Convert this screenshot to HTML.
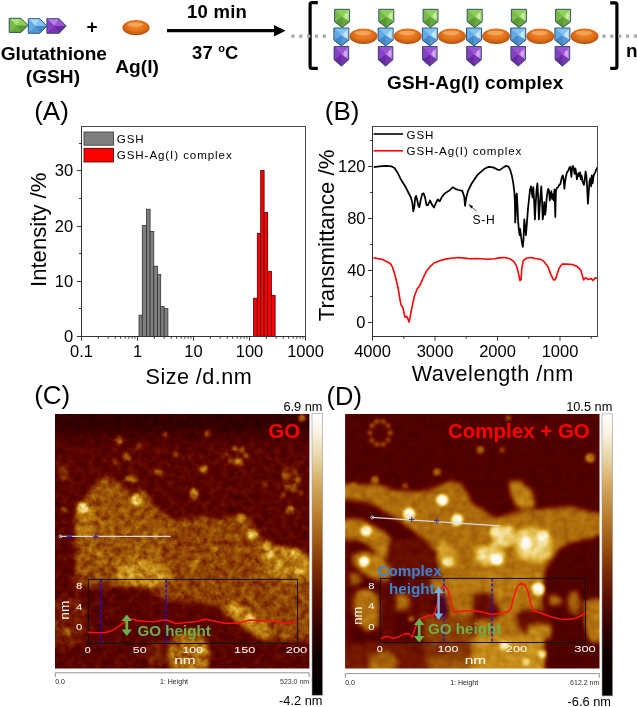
<!DOCTYPE html>
<html><head><meta charset="utf-8"><title>GSH-Ag(I) complex</title>
<style>
html,body{margin:0;padding:0;background:#fff;width:637px;height:707px;overflow:hidden}
svg{display:block}
.r{font-family:"Liberation Sans",Arial,sans-serif;font-weight:normal}
.b{font-family:"Liberation Sans",Arial,sans-serif;font-weight:bold}
text.wt{fill:#fff}
</style></head><body>
<svg width="637" height="707" viewBox="0 0 637 707">
<defs>
<linearGradient id="gG" x1="0" y1="0" x2="0" y2="1"><stop offset="0" stop-color="#a6dc6e"/><stop offset="0.5" stop-color="#78bd48"/><stop offset="1" stop-color="#4e8f2a"/></linearGradient>
<linearGradient id="gB" x1="0" y1="0" x2="0" y2="1"><stop offset="0" stop-color="#9fd2f6"/><stop offset="0.5" stop-color="#5ea6e2"/><stop offset="1" stop-color="#3b7cc0"/></linearGradient>
<linearGradient id="gP" x1="0" y1="0" x2="0" y2="1"><stop offset="0" stop-color="#b56ee0"/><stop offset="0.5" stop-color="#8036b8"/><stop offset="1" stop-color="#5a1f8e"/></linearGradient>
<linearGradient id="gGv" x1="0" y1="0" x2="1" y2="0"><stop offset="0" stop-color="#5e9e36"/><stop offset="0.6" stop-color="#7cc24a"/><stop offset="0.85" stop-color="#b4ea80"/><stop offset="1" stop-color="#6aa83c"/></linearGradient>
<linearGradient id="gBv" x1="0" y1="0" x2="1" y2="0"><stop offset="0" stop-color="#4a8ed0"/><stop offset="0.6" stop-color="#64ace6"/><stop offset="0.85" stop-color="#aee0fc"/><stop offset="1" stop-color="#5a9edc"/></linearGradient>
<linearGradient id="gPv" x1="0" y1="0" x2="1" y2="0"><stop offset="0" stop-color="#6a28a0"/><stop offset="0.6" stop-color="#8a3cc4"/><stop offset="0.85" stop-color="#c07ef0"/><stop offset="1" stop-color="#7a34b4"/></linearGradient>
<radialGradient id="gOr" cx="0.5" cy="0.4" r="0.62"><stop offset="0" stop-color="#f08a2a"/><stop offset="0.55" stop-color="#e2721a"/><stop offset="0.85" stop-color="#c25810"/><stop offset="1" stop-color="#8e3c06"/></radialGradient>
<linearGradient id="cbar" x1="0" y1="0" x2="0" y2="1"><stop offset="0" stop-color="#ffffff"/><stop offset="0.06" stop-color="#fbf5e8"/><stop offset="0.15" stop-color="#ead7a8"/><stop offset="0.25" stop-color="#d4aa60"/><stop offset="0.35" stop-color="#bd8232"/><stop offset="0.45" stop-color="#a05a14"/><stop offset="0.55" stop-color="#7e2e04"/><stop offset="0.65" stop-color="#5a1000"/><stop offset="0.75" stop-color="#340400"/><stop offset="0.85" stop-color="#120000"/><stop offset="1" stop-color="#000000"/></linearGradient>
<linearGradient id="topband" x1="0" y1="0" x2="0" y2="1"><stop offset="0" stop-color="rgb(18,18,18)"/><stop offset="0.45" stop-color="rgb(22,22,22)"/><stop offset="0.75" stop-color="rgb(40,40,40)"/><stop offset="1" stop-color="rgb(51,51,51)"/></linearGradient>
<clipPath id="clipA"><rect x="0" y="90" width="330" height="300"/></clipPath>
<clipPath id="clipImg"><rect x="0" y="0" width="254.4" height="254.6"/></clipPath>
<filter id="bl4" x="-20%" y="-20%" width="140%" height="140%"><feGaussianBlur stdDeviation="4"/></filter>
<filter id="bl2" x="-50%" y="-50%" width="200%" height="200%"><feGaussianBlur stdDeviation="2"/></filter>
<filter id="hb3" x="-20%" y="-20%" width="140%" height="140%"><feGaussianBlur stdDeviation="2.5"/></filter>
<filter id="hb15" x="-50%" y="-50%" width="200%" height="200%"><feGaussianBlur stdDeviation="1.6"/></filter>
<filter id="afm" x="0" y="0" width="255" height="255" filterUnits="userSpaceOnUse" color-interpolation-filters="sRGB"><feTurbulence type="fractalNoise" baseFrequency="0.15" numOctaves="3" seed="7" result="n"/><feColorMatrix in="n" type="matrix" values="1 0 0 0 0  1 0 0 0 0  1 0 0 0 0  0 0 0 0 1" result="ng"/><feComposite in="SourceGraphic" in2="ng" operator="arithmetic" k1="0.8" k2="0.6" k3="0.04" k4="-0.02" result="hn"/><feComponentTransfer in="hn"><feFuncR type="table" tableValues="0.08 0.22 0.35 0.46 0.55 0.65 0.75 0.84 0.91 0.96 1.0"/><feFuncG type="table" tableValues="0.0 0.0 0.01 0.10 0.25 0.39 0.52 0.65 0.78 0.89 0.98"/><feFuncB type="table" tableValues="0.0 0.0 0.0 0.0 0.02 0.04 0.08 0.18 0.38 0.64 0.94"/></feComponentTransfer></filter>
<filter id="afmD" x="0" y="0" width="255" height="255" filterUnits="userSpaceOnUse" color-interpolation-filters="sRGB"><feTurbulence type="fractalNoise" baseFrequency="0.12" numOctaves="2" seed="11" result="n"/><feColorMatrix in="n" type="matrix" values="1 0 0 0 0  1 0 0 0 0  1 0 0 0 0  0 0 0 0 1" result="ng"/><feComposite in="SourceGraphic" in2="ng" operator="arithmetic" k1="0.25" k2="0.875" k3="0.03" k4="-0.015" result="hn"/><feComponentTransfer in="hn"><feFuncR type="table" tableValues="0.08 0.22 0.35 0.46 0.55 0.65 0.75 0.84 0.91 0.96 1.0"/><feFuncG type="table" tableValues="0.0 0.0 0.01 0.10 0.25 0.39 0.52 0.65 0.78 0.89 0.98"/><feFuncB type="table" tableValues="0.0 0.0 0.0 0.0 0.02 0.04 0.08 0.18 0.38 0.64 0.94"/></feComponentTransfer></filter>
<filter id="noise" x="0" y="0" width="100%" height="100%"><feTurbulence type="fractalNoise" baseFrequency="0.35" numOctaves="2" seed="3"/><feColorMatrix type="matrix" values="0 0 0 0 0.5  0 0 0 0 0.3  0 0 0 0 0.1  0 0 0 1.6 -0.8"/></filter>
</defs>
<polygon points="9.2,18.3 21.0,18.3 28.0,25.35 21.0,32.4 9.2,32.4" fill="#78bb48"/><polygon points="9.2,18.3 21.0,18.3 16.5,25.4" fill="#a9e274"/><polygon points="21.0,18.3 28.0,25.4 16.5,25.4" fill="#8ed05a"/><polygon points="28.0,25.4 21.0,32.4 16.5,25.4" fill="#5a9834"/><polygon points="21.0,32.4 9.2,32.4 16.5,25.4" fill="#68a83e"/><polygon points="9.2,32.4 9.2,18.3 16.5,25.4" fill="#78bb48"/><polygon points="9.2,18.3 21.0,18.3 28.0,25.35 21.0,32.4 9.2,32.4" fill="none" stroke="#2b4a6a" stroke-width="0.9" stroke-linejoin="round"/>
<polygon points="28.3,18.7 39.8,18.7 46.8,26.0 39.8,33.3 28.3,33.3" fill="#63a9e5"/><polygon points="28.3,18.7 39.8,18.7 35.4,26.0" fill="#a8dafb"/><polygon points="39.8,18.7 46.8,26.0 35.4,26.0" fill="#82c2f2"/><polygon points="46.8,26.0 39.8,33.3 35.4,26.0" fill="#4586c4"/><polygon points="39.8,33.3 28.3,33.3 35.4,26.0" fill="#5298d6"/><polygon points="28.3,33.3 28.3,18.7 35.4,26.0" fill="#63a9e5"/><polygon points="28.3,18.7 39.8,18.7 46.8,26.0 39.8,33.3 28.3,33.3" fill="none" stroke="#2b4a6a" stroke-width="0.9" stroke-linejoin="round"/>
<polygon points="46.9,18.7 59.099999999999994,18.7 66.1,26.0 59.099999999999994,33.3 46.9,33.3" fill="#8541c1"/><polygon points="46.9,18.7 59.1,18.7 54.5,26.0" fill="#bb7ae8"/><polygon points="59.1,18.7 66.1,26.0 54.5,26.0" fill="#9c54d4"/><polygon points="66.1,26.0 59.1,33.3 54.5,26.0" fill="#682aa0"/><polygon points="59.1,33.3 46.9,33.3 54.5,26.0" fill="#7636b0"/><polygon points="46.9,33.3 46.9,18.7 54.5,26.0" fill="#8541c1"/><polygon points="46.9,18.7 59.099999999999994,18.7 66.1,26.0 59.099999999999994,33.3 46.9,33.3" fill="none" stroke="#2b4a6a" stroke-width="0.9" stroke-linejoin="round"/>
<text x="86.5" y="32.5" class="b" font-size="19">+</text>
<ellipse cx="136.0" cy="27.6" rx="13.6" ry="7.6" fill="url(#gOr)"/><ellipse cx="135.3" cy="24.4" rx="8.2" ry="2.1" fill="#ffd0a0" opacity="0.45"/>
<text x="0.7" y="60.1" class="b" font-size="19.15">Glutathione</text>
<text x="25.8" y="82.8" class="b" font-size="19.15">(GSH)</text>
<text x="115.3" y="72.8" class="b" font-size="19.15">Ag(I)</text>
<text x="187" y="17.8" class="b" font-size="18.5" letter-spacing="0.25">10 min</text>
<text x="192" y="58.5" class="b" font-size="18.4" letter-spacing="0.2">37 <tspan font-size="11" dy="-6.5">o</tspan><tspan dy="6.5">C</tspan></text>
<line x1="167" y1="30.7" x2="276" y2="30.7" stroke="#000" stroke-width="3.2"/>
<polygon points="274,25 285.5,30.7 274,36.4" fill="#000"/>
<path d="M317.8,2.6 L312,2.6 Q310.1,2.6 310.1,4.5 L310.1,66.5 Q310.1,68.4 312,68.4 L317.8,68.4" fill="none" stroke="#000" stroke-width="3.2"/>
<path d="M610.2,2.8 L615,2.8 Q616.9,2.8 616.9,4.7 L616.9,66.4 Q616.9,68.3 615,68.3 L610.2,68.3" fill="none" stroke="#000" stroke-width="3.2"/>
<rect x="291.30" y="34.5" width="3.3" height="3.3" fill="#ababab"/>
<rect x="299.15" y="34.5" width="3.3" height="3.3" fill="#ababab"/>
<rect x="307.00" y="34.5" width="3.3" height="3.3" fill="#ababab"/>
<rect x="314.85" y="34.5" width="3.3" height="3.3" fill="#ababab"/>
<rect x="322.70" y="34.5" width="3.3" height="3.3" fill="#ababab"/>
<rect x="602.30" y="34.5" width="3.3" height="3.3" fill="#ababab"/>
<rect x="610.15" y="34.5" width="3.3" height="3.3" fill="#ababab"/>
<rect x="618.00" y="34.5" width="3.3" height="3.3" fill="#ababab"/>
<rect x="625.85" y="34.5" width="3.3" height="3.3" fill="#ababab"/>
<rect x="633.70" y="34.5" width="3.3" height="3.3" fill="#ababab"/>
<text x="626" y="56.8" class="b" font-size="18.9">n</text>
<polygon points="334.6,9.3 349.6,9.3 349.6,21.7 342.1,27.5 334.6,21.7" fill="#78bb48"/><polygon points="334.6,9.3 349.6,9.3 342.1,16.7" fill="#8ed05a"/><polygon points="349.6,9.3 349.6,21.7 342.1,16.7" fill="#a9e274"/><polygon points="349.6,21.7 342.1,27.5 342.1,16.7" fill="#68a83e"/><polygon points="342.1,27.5 334.6,21.7 342.1,16.7" fill="#5a9834"/><polygon points="334.6,21.7 334.6,9.3 342.1,16.7" fill="#78bb48"/><ellipse cx="346.3" cy="16.1" rx="1.6" ry="3.2" fill="#ffffff" opacity="0.35"/><polygon points="334.6,9.3 349.6,9.3 349.6,21.7 342.1,27.5 334.6,21.7" fill="none" stroke="#2b4a6a" stroke-width="0.9" stroke-linejoin="round"/>
<polygon points="333.90000000000003,28.0 348.90000000000003,28.0 348.90000000000003,40.1 341.40000000000003,45.9 333.90000000000003,40.1" fill="#63a9e5"/><polygon points="333.9,28.0 348.9,28.0 341.4,35.3" fill="#82c2f2"/><polygon points="348.9,28.0 348.9,40.1 341.4,35.3" fill="#a8dafb"/><polygon points="348.9,40.1 341.4,45.9 341.4,35.3" fill="#5298d6"/><polygon points="341.4,45.9 333.9,40.1 341.4,35.3" fill="#4586c4"/><polygon points="333.9,40.1 333.9,28.0 341.4,35.3" fill="#63a9e5"/><ellipse cx="345.6" cy="34.7" rx="1.6" ry="3.2" fill="#ffffff" opacity="0.35"/><polygon points="333.90000000000003,28.0 348.90000000000003,28.0 348.90000000000003,40.1 341.40000000000003,45.9 333.90000000000003,40.1" fill="none" stroke="#2b4a6a" stroke-width="0.9" stroke-linejoin="round"/>
<polygon points="334.1,46.5 348.70000000000005,46.5 348.70000000000005,59.699999999999996 341.40000000000003,66.1 334.1,59.699999999999996" fill="#8541c1"/><polygon points="334.1,46.5 348.7,46.5 341.4,54.4" fill="#9c54d4"/><polygon points="348.7,46.5 348.7,59.7 341.4,54.4" fill="#bb7ae8"/><polygon points="348.7,59.7 341.4,66.1 341.4,54.4" fill="#7636b0"/><polygon points="341.4,66.1 334.1,59.7 341.4,54.4" fill="#682aa0"/><polygon points="334.1,59.7 334.1,46.5 341.4,54.4" fill="#8541c1"/><ellipse cx="345.5" cy="53.8" rx="1.6" ry="3.2" fill="#ffffff" opacity="0.35"/><polygon points="334.1,46.5 348.70000000000005,46.5 348.70000000000005,59.699999999999996 341.40000000000003,66.1 334.1,59.699999999999996" fill="none" stroke="#2b4a6a" stroke-width="0.9" stroke-linejoin="round"/>
<ellipse cx="363.5" cy="36.2" rx="14.0" ry="7.8" fill="url(#gOr)"/><ellipse cx="362.8" cy="32.9" rx="8.4" ry="2.2" fill="#ffd0a0" opacity="0.45"/>
<polygon points="378.8,9.3 393.8,9.3 393.8,21.7 386.3,27.5 378.8,21.7" fill="#78bb48"/><polygon points="378.8,9.3 393.8,9.3 386.3,16.7" fill="#8ed05a"/><polygon points="393.8,9.3 393.8,21.7 386.3,16.7" fill="#a9e274"/><polygon points="393.8,21.7 386.3,27.5 386.3,16.7" fill="#68a83e"/><polygon points="386.3,27.5 378.8,21.7 386.3,16.7" fill="#5a9834"/><polygon points="378.8,21.7 378.8,9.3 386.3,16.7" fill="#78bb48"/><ellipse cx="390.5" cy="16.1" rx="1.6" ry="3.2" fill="#ffffff" opacity="0.35"/><polygon points="378.8,9.3 393.8,9.3 393.8,21.7 386.3,27.5 378.8,21.7" fill="none" stroke="#2b4a6a" stroke-width="0.9" stroke-linejoin="round"/>
<polygon points="378.1,28.0 393.1,28.0 393.1,40.1 385.6,45.9 378.1,40.1" fill="#63a9e5"/><polygon points="378.1,28.0 393.1,28.0 385.6,35.3" fill="#82c2f2"/><polygon points="393.1,28.0 393.1,40.1 385.6,35.3" fill="#a8dafb"/><polygon points="393.1,40.1 385.6,45.9 385.6,35.3" fill="#5298d6"/><polygon points="385.6,45.9 378.1,40.1 385.6,35.3" fill="#4586c4"/><polygon points="378.1,40.1 378.1,28.0 385.6,35.3" fill="#63a9e5"/><ellipse cx="389.8" cy="34.7" rx="1.6" ry="3.2" fill="#ffffff" opacity="0.35"/><polygon points="378.1,28.0 393.1,28.0 393.1,40.1 385.6,45.9 378.1,40.1" fill="none" stroke="#2b4a6a" stroke-width="0.9" stroke-linejoin="round"/>
<polygon points="378.3,46.5 392.90000000000003,46.5 392.90000000000003,59.699999999999996 385.6,66.1 378.3,59.699999999999996" fill="#8541c1"/><polygon points="378.3,46.5 392.9,46.5 385.6,54.4" fill="#9c54d4"/><polygon points="392.9,46.5 392.9,59.7 385.6,54.4" fill="#bb7ae8"/><polygon points="392.9,59.7 385.6,66.1 385.6,54.4" fill="#7636b0"/><polygon points="385.6,66.1 378.3,59.7 385.6,54.4" fill="#682aa0"/><polygon points="378.3,59.7 378.3,46.5 385.6,54.4" fill="#8541c1"/><ellipse cx="389.7" cy="53.8" rx="1.6" ry="3.2" fill="#ffffff" opacity="0.35"/><polygon points="378.3,46.5 392.90000000000003,46.5 392.90000000000003,59.699999999999996 385.6,66.1 378.3,59.699999999999996" fill="none" stroke="#2b4a6a" stroke-width="0.9" stroke-linejoin="round"/>
<ellipse cx="407.7" cy="36.2" rx="14.0" ry="7.8" fill="url(#gOr)"/><ellipse cx="407.0" cy="32.9" rx="8.4" ry="2.2" fill="#ffd0a0" opacity="0.45"/>
<polygon points="423.00000000000006,9.3 438.00000000000006,9.3 438.00000000000006,21.7 430.50000000000006,27.5 423.00000000000006,21.7" fill="#78bb48"/><polygon points="423.0,9.3 438.0,9.3 430.5,16.7" fill="#8ed05a"/><polygon points="438.0,9.3 438.0,21.7 430.5,16.7" fill="#a9e274"/><polygon points="438.0,21.7 430.5,27.5 430.5,16.7" fill="#68a83e"/><polygon points="430.5,27.5 423.0,21.7 430.5,16.7" fill="#5a9834"/><polygon points="423.0,21.7 423.0,9.3 430.5,16.7" fill="#78bb48"/><ellipse cx="434.7" cy="16.1" rx="1.6" ry="3.2" fill="#ffffff" opacity="0.35"/><polygon points="423.00000000000006,9.3 438.00000000000006,9.3 438.00000000000006,21.7 430.50000000000006,27.5 423.00000000000006,21.7" fill="none" stroke="#2b4a6a" stroke-width="0.9" stroke-linejoin="round"/>
<polygon points="422.30000000000007,28.0 437.30000000000007,28.0 437.30000000000007,40.1 429.80000000000007,45.9 422.30000000000007,40.1" fill="#63a9e5"/><polygon points="422.3,28.0 437.3,28.0 429.8,35.3" fill="#82c2f2"/><polygon points="437.3,28.0 437.3,40.1 429.8,35.3" fill="#a8dafb"/><polygon points="437.3,40.1 429.8,45.9 429.8,35.3" fill="#5298d6"/><polygon points="429.8,45.9 422.3,40.1 429.8,35.3" fill="#4586c4"/><polygon points="422.3,40.1 422.3,28.0 429.8,35.3" fill="#63a9e5"/><ellipse cx="434.0" cy="34.7" rx="1.6" ry="3.2" fill="#ffffff" opacity="0.35"/><polygon points="422.30000000000007,28.0 437.30000000000007,28.0 437.30000000000007,40.1 429.80000000000007,45.9 422.30000000000007,40.1" fill="none" stroke="#2b4a6a" stroke-width="0.9" stroke-linejoin="round"/>
<polygon points="422.50000000000006,46.5 437.1000000000001,46.5 437.1000000000001,59.699999999999996 429.80000000000007,66.1 422.50000000000006,59.699999999999996" fill="#8541c1"/><polygon points="422.5,46.5 437.1,46.5 429.8,54.4" fill="#9c54d4"/><polygon points="437.1,46.5 437.1,59.7 429.8,54.4" fill="#bb7ae8"/><polygon points="437.1,59.7 429.8,66.1 429.8,54.4" fill="#7636b0"/><polygon points="429.8,66.1 422.5,59.7 429.8,54.4" fill="#682aa0"/><polygon points="422.5,59.7 422.5,46.5 429.8,54.4" fill="#8541c1"/><ellipse cx="433.9" cy="53.8" rx="1.6" ry="3.2" fill="#ffffff" opacity="0.35"/><polygon points="422.50000000000006,46.5 437.1000000000001,46.5 437.1000000000001,59.699999999999996 429.80000000000007,66.1 422.50000000000006,59.699999999999996" fill="none" stroke="#2b4a6a" stroke-width="0.9" stroke-linejoin="round"/>
<ellipse cx="451.9" cy="36.2" rx="14.0" ry="7.8" fill="url(#gOr)"/><ellipse cx="451.2" cy="32.9" rx="8.4" ry="2.2" fill="#ffd0a0" opacity="0.45"/>
<polygon points="467.20000000000005,9.3 482.20000000000005,9.3 482.20000000000005,21.7 474.70000000000005,27.5 467.20000000000005,21.7" fill="#78bb48"/><polygon points="467.2,9.3 482.2,9.3 474.7,16.7" fill="#8ed05a"/><polygon points="482.2,9.3 482.2,21.7 474.7,16.7" fill="#a9e274"/><polygon points="482.2,21.7 474.7,27.5 474.7,16.7" fill="#68a83e"/><polygon points="474.7,27.5 467.2,21.7 474.7,16.7" fill="#5a9834"/><polygon points="467.2,21.7 467.2,9.3 474.7,16.7" fill="#78bb48"/><ellipse cx="478.9" cy="16.1" rx="1.6" ry="3.2" fill="#ffffff" opacity="0.35"/><polygon points="467.20000000000005,9.3 482.20000000000005,9.3 482.20000000000005,21.7 474.70000000000005,27.5 467.20000000000005,21.7" fill="none" stroke="#2b4a6a" stroke-width="0.9" stroke-linejoin="round"/>
<polygon points="466.50000000000006,28.0 481.50000000000006,28.0 481.50000000000006,40.1 474.00000000000006,45.9 466.50000000000006,40.1" fill="#63a9e5"/><polygon points="466.5,28.0 481.5,28.0 474.0,35.3" fill="#82c2f2"/><polygon points="481.5,28.0 481.5,40.1 474.0,35.3" fill="#a8dafb"/><polygon points="481.5,40.1 474.0,45.9 474.0,35.3" fill="#5298d6"/><polygon points="474.0,45.9 466.5,40.1 474.0,35.3" fill="#4586c4"/><polygon points="466.5,40.1 466.5,28.0 474.0,35.3" fill="#63a9e5"/><ellipse cx="478.2" cy="34.7" rx="1.6" ry="3.2" fill="#ffffff" opacity="0.35"/><polygon points="466.50000000000006,28.0 481.50000000000006,28.0 481.50000000000006,40.1 474.00000000000006,45.9 466.50000000000006,40.1" fill="none" stroke="#2b4a6a" stroke-width="0.9" stroke-linejoin="round"/>
<polygon points="466.70000000000005,46.5 481.30000000000007,46.5 481.30000000000007,59.699999999999996 474.00000000000006,66.1 466.70000000000005,59.699999999999996" fill="#8541c1"/><polygon points="466.7,46.5 481.3,46.5 474.0,54.4" fill="#9c54d4"/><polygon points="481.3,46.5 481.3,59.7 474.0,54.4" fill="#bb7ae8"/><polygon points="481.3,59.7 474.0,66.1 474.0,54.4" fill="#7636b0"/><polygon points="474.0,66.1 466.7,59.7 474.0,54.4" fill="#682aa0"/><polygon points="466.7,59.7 466.7,46.5 474.0,54.4" fill="#8541c1"/><ellipse cx="478.1" cy="53.8" rx="1.6" ry="3.2" fill="#ffffff" opacity="0.35"/><polygon points="466.70000000000005,46.5 481.30000000000007,46.5 481.30000000000007,59.699999999999996 474.00000000000006,66.1 466.70000000000005,59.699999999999996" fill="none" stroke="#2b4a6a" stroke-width="0.9" stroke-linejoin="round"/>
<ellipse cx="496.1" cy="36.2" rx="14.0" ry="7.8" fill="url(#gOr)"/><ellipse cx="495.4" cy="32.9" rx="8.4" ry="2.2" fill="#ffd0a0" opacity="0.45"/>
<polygon points="511.40000000000003,9.3 526.4000000000001,9.3 526.4000000000001,21.7 518.9000000000001,27.5 511.40000000000003,21.7" fill="#78bb48"/><polygon points="511.4,9.3 526.4,9.3 518.9,16.7" fill="#8ed05a"/><polygon points="526.4,9.3 526.4,21.7 518.9,16.7" fill="#a9e274"/><polygon points="526.4,21.7 518.9,27.5 518.9,16.7" fill="#68a83e"/><polygon points="518.9,27.5 511.4,21.7 518.9,16.7" fill="#5a9834"/><polygon points="511.4,21.7 511.4,9.3 518.9,16.7" fill="#78bb48"/><ellipse cx="523.1" cy="16.1" rx="1.6" ry="3.2" fill="#ffffff" opacity="0.35"/><polygon points="511.40000000000003,9.3 526.4000000000001,9.3 526.4000000000001,21.7 518.9000000000001,27.5 511.40000000000003,21.7" fill="none" stroke="#2b4a6a" stroke-width="0.9" stroke-linejoin="round"/>
<polygon points="510.70000000000005,28.0 525.7,28.0 525.7,40.1 518.2,45.9 510.70000000000005,40.1" fill="#63a9e5"/><polygon points="510.7,28.0 525.7,28.0 518.2,35.3" fill="#82c2f2"/><polygon points="525.7,28.0 525.7,40.1 518.2,35.3" fill="#a8dafb"/><polygon points="525.7,40.1 518.2,45.9 518.2,35.3" fill="#5298d6"/><polygon points="518.2,45.9 510.7,40.1 518.2,35.3" fill="#4586c4"/><polygon points="510.7,40.1 510.7,28.0 518.2,35.3" fill="#63a9e5"/><ellipse cx="522.4" cy="34.7" rx="1.6" ry="3.2" fill="#ffffff" opacity="0.35"/><polygon points="510.70000000000005,28.0 525.7,28.0 525.7,40.1 518.2,45.9 510.70000000000005,40.1" fill="none" stroke="#2b4a6a" stroke-width="0.9" stroke-linejoin="round"/>
<polygon points="510.90000000000003,46.5 525.5,46.5 525.5,59.699999999999996 518.2,66.1 510.90000000000003,59.699999999999996" fill="#8541c1"/><polygon points="510.9,46.5 525.5,46.5 518.2,54.4" fill="#9c54d4"/><polygon points="525.5,46.5 525.5,59.7 518.2,54.4" fill="#bb7ae8"/><polygon points="525.5,59.7 518.2,66.1 518.2,54.4" fill="#7636b0"/><polygon points="518.2,66.1 510.9,59.7 518.2,54.4" fill="#682aa0"/><polygon points="510.9,59.7 510.9,46.5 518.2,54.4" fill="#8541c1"/><ellipse cx="522.3" cy="53.8" rx="1.6" ry="3.2" fill="#ffffff" opacity="0.35"/><polygon points="510.90000000000003,46.5 525.5,46.5 525.5,59.699999999999996 518.2,66.1 510.90000000000003,59.699999999999996" fill="none" stroke="#2b4a6a" stroke-width="0.9" stroke-linejoin="round"/>
<ellipse cx="540.3" cy="36.2" rx="14.0" ry="7.8" fill="url(#gOr)"/><ellipse cx="539.6" cy="32.9" rx="8.4" ry="2.2" fill="#ffd0a0" opacity="0.45"/>
<polygon points="555.5999999999999,9.3 570.5999999999999,9.3 570.5999999999999,21.7 563.0999999999999,27.5 555.5999999999999,21.7" fill="#78bb48"/><polygon points="555.6,9.3 570.6,9.3 563.1,16.7" fill="#8ed05a"/><polygon points="570.6,9.3 570.6,21.7 563.1,16.7" fill="#a9e274"/><polygon points="570.6,21.7 563.1,27.5 563.1,16.7" fill="#68a83e"/><polygon points="563.1,27.5 555.6,21.7 563.1,16.7" fill="#5a9834"/><polygon points="555.6,21.7 555.6,9.3 563.1,16.7" fill="#78bb48"/><ellipse cx="567.3" cy="16.1" rx="1.6" ry="3.2" fill="#ffffff" opacity="0.35"/><polygon points="555.5999999999999,9.3 570.5999999999999,9.3 570.5999999999999,21.7 563.0999999999999,27.5 555.5999999999999,21.7" fill="none" stroke="#2b4a6a" stroke-width="0.9" stroke-linejoin="round"/>
<polygon points="554.9,28.0 569.9,28.0 569.9,40.1 562.4,45.9 554.9,40.1" fill="#63a9e5"/><polygon points="554.9,28.0 569.9,28.0 562.4,35.3" fill="#82c2f2"/><polygon points="569.9,28.0 569.9,40.1 562.4,35.3" fill="#a8dafb"/><polygon points="569.9,40.1 562.4,45.9 562.4,35.3" fill="#5298d6"/><polygon points="562.4,45.9 554.9,40.1 562.4,35.3" fill="#4586c4"/><polygon points="554.9,40.1 554.9,28.0 562.4,35.3" fill="#63a9e5"/><ellipse cx="566.6" cy="34.7" rx="1.6" ry="3.2" fill="#ffffff" opacity="0.35"/><polygon points="554.9,28.0 569.9,28.0 569.9,40.1 562.4,45.9 554.9,40.1" fill="none" stroke="#2b4a6a" stroke-width="0.9" stroke-linejoin="round"/>
<polygon points="555.0999999999999,46.5 569.6999999999999,46.5 569.6999999999999,59.699999999999996 562.3999999999999,66.1 555.0999999999999,59.699999999999996" fill="#8541c1"/><polygon points="555.1,46.5 569.7,46.5 562.4,54.4" fill="#9c54d4"/><polygon points="569.7,46.5 569.7,59.7 562.4,54.4" fill="#bb7ae8"/><polygon points="569.7,59.7 562.4,66.1 562.4,54.4" fill="#7636b0"/><polygon points="562.4,66.1 555.1,59.7 562.4,54.4" fill="#682aa0"/><polygon points="555.1,59.7 555.1,46.5 562.4,54.4" fill="#8541c1"/><ellipse cx="566.5" cy="53.8" rx="1.6" ry="3.2" fill="#ffffff" opacity="0.35"/><polygon points="555.0999999999999,46.5 569.6999999999999,46.5 569.6999999999999,59.699999999999996 562.3999999999999,66.1 555.0999999999999,59.699999999999996" fill="none" stroke="#2b4a6a" stroke-width="0.9" stroke-linejoin="round"/>
<ellipse cx="584.5" cy="36.2" rx="14.0" ry="7.8" fill="url(#gOr)"/><ellipse cx="583.8" cy="32.9" rx="8.4" ry="2.2" fill="#ffd0a0" opacity="0.45"/>
<text x="387" y="88.9" class="b" font-size="19" letter-spacing="0.2">GSH-Ag(I) complex</text>
<g clip-path="url(#clipA)"><text x="34.2" y="120.4" class="r" font-size="26">(A)</text>
<rect x="139.0" y="315.2" width="3.3" height="21.3" fill="#7f7f7f" stroke="#333" stroke-width="0.8"/>
<rect x="142.3" y="225.6" width="4.1" height="110.9" fill="#7f7f7f" stroke="#333" stroke-width="0.8"/>
<rect x="146.4" y="209.2" width="3.7" height="127.3" fill="#7f7f7f" stroke="#333" stroke-width="0.8"/>
<rect x="150.1" y="231.4" width="3.7" height="105.1" fill="#7f7f7f" stroke="#333" stroke-width="0.8"/>
<rect x="153.8" y="266.2" width="3.7" height="70.3" fill="#7f7f7f" stroke="#333" stroke-width="0.8"/>
<rect x="157.5" y="274.4" width="3.2" height="62.1" fill="#7f7f7f" stroke="#333" stroke-width="0.8"/>
<rect x="160.7" y="306.6" width="3.5" height="29.9" fill="#7f7f7f" stroke="#333" stroke-width="0.8"/>
<rect x="164.2" y="308.6" width="3.7" height="27.9" fill="#7f7f7f" stroke="#333" stroke-width="0.8"/>
<rect x="253.6" y="298.2" width="3.7" height="38.3" fill="#ff0000" stroke="#400" stroke-width="0.8"/>
<rect x="257.3" y="233.3" width="3.4" height="103.2" fill="#ff0000" stroke="#400" stroke-width="0.8"/>
<rect x="260.7" y="170.5" width="3.4" height="166.0" fill="#ff0000" stroke="#400" stroke-width="0.8"/>
<rect x="264.1" y="212.4" width="3.6" height="124.1" fill="#ff0000" stroke="#400" stroke-width="0.8"/>
<rect x="267.7" y="271.3" width="3.7" height="65.2" fill="#ff0000" stroke="#400" stroke-width="0.8"/>
<rect x="271.4" y="295.3" width="3.7" height="41.2" fill="#ff0000" stroke="#400" stroke-width="0.8"/>
<rect x="81.5" y="126.5" width="224.0" height="210.0" fill="none" stroke="#4a4a4a" stroke-width="1"/>
<line x1="81.5" y1="126.5" x2="81.5" y2="336.5" stroke="#333" stroke-width="1"/>
<line x1="81.5" y1="336.5" x2="305.5" y2="336.5" stroke="#333" stroke-width="1"/>
<line x1="76.9" y1="336.5" x2="81.5" y2="336.5" stroke="#222" stroke-width="0.9"/>
<text x="73.2" y="341.5" class="r" font-size="16.5" text-anchor="end">0</text>
<line x1="79.0" y1="308.5" x2="81.5" y2="308.5" stroke="#222" stroke-width="0.9"/>
<line x1="76.9" y1="281.5" x2="81.5" y2="281.5" stroke="#222" stroke-width="0.9"/>
<text x="73.2" y="286.5" class="r" font-size="16.5" text-anchor="end">10</text>
<line x1="79.0" y1="253.5" x2="81.5" y2="253.5" stroke="#222" stroke-width="0.9"/>
<line x1="76.9" y1="226.5" x2="81.5" y2="226.5" stroke="#222" stroke-width="0.9"/>
<text x="73.2" y="231.5" class="r" font-size="16.5" text-anchor="end">20</text>
<line x1="79.0" y1="198.5" x2="81.5" y2="198.5" stroke="#222" stroke-width="0.9"/>
<line x1="76.9" y1="170.5" x2="81.5" y2="170.5" stroke="#222" stroke-width="0.9"/>
<text x="73.2" y="175.5" class="r" font-size="16.5" text-anchor="end">30</text>
<line x1="79.0" y1="143.5" x2="81.5" y2="143.5" stroke="#222" stroke-width="0.9"/>
<line x1="81.5" y1="336.5" x2="81.5" y2="340.7" stroke="#222" stroke-width="0.9"/>
<line x1="98.4" y1="336.5" x2="98.4" y2="338.7" stroke="#222" stroke-width="0.9"/>
<line x1="108.2" y1="336.5" x2="108.2" y2="338.7" stroke="#222" stroke-width="0.9"/>
<line x1="115.2" y1="336.5" x2="115.2" y2="338.7" stroke="#222" stroke-width="0.9"/>
<line x1="120.6" y1="336.5" x2="120.6" y2="338.7" stroke="#222" stroke-width="0.9"/>
<line x1="125.1" y1="336.5" x2="125.1" y2="338.7" stroke="#222" stroke-width="0.9"/>
<line x1="128.8" y1="336.5" x2="128.8" y2="338.7" stroke="#222" stroke-width="0.9"/>
<line x1="132.1" y1="336.5" x2="132.1" y2="338.7" stroke="#222" stroke-width="0.9"/>
<line x1="134.9" y1="336.5" x2="134.9" y2="338.7" stroke="#222" stroke-width="0.9"/>
<line x1="137.5" y1="336.5" x2="137.5" y2="340.7" stroke="#222" stroke-width="0.9"/>
<line x1="154.4" y1="336.5" x2="154.4" y2="338.7" stroke="#222" stroke-width="0.9"/>
<line x1="164.2" y1="336.5" x2="164.2" y2="338.7" stroke="#222" stroke-width="0.9"/>
<line x1="171.2" y1="336.5" x2="171.2" y2="338.7" stroke="#222" stroke-width="0.9"/>
<line x1="176.6" y1="336.5" x2="176.6" y2="338.7" stroke="#222" stroke-width="0.9"/>
<line x1="181.1" y1="336.5" x2="181.1" y2="338.7" stroke="#222" stroke-width="0.9"/>
<line x1="184.8" y1="336.5" x2="184.8" y2="338.7" stroke="#222" stroke-width="0.9"/>
<line x1="188.1" y1="336.5" x2="188.1" y2="338.7" stroke="#222" stroke-width="0.9"/>
<line x1="190.9" y1="336.5" x2="190.9" y2="338.7" stroke="#222" stroke-width="0.9"/>
<line x1="193.5" y1="336.5" x2="193.5" y2="340.7" stroke="#222" stroke-width="0.9"/>
<line x1="210.4" y1="336.5" x2="210.4" y2="338.7" stroke="#222" stroke-width="0.9"/>
<line x1="220.2" y1="336.5" x2="220.2" y2="338.7" stroke="#222" stroke-width="0.9"/>
<line x1="227.2" y1="336.5" x2="227.2" y2="338.7" stroke="#222" stroke-width="0.9"/>
<line x1="232.6" y1="336.5" x2="232.6" y2="338.7" stroke="#222" stroke-width="0.9"/>
<line x1="237.1" y1="336.5" x2="237.1" y2="338.7" stroke="#222" stroke-width="0.9"/>
<line x1="240.8" y1="336.5" x2="240.8" y2="338.7" stroke="#222" stroke-width="0.9"/>
<line x1="244.1" y1="336.5" x2="244.1" y2="338.7" stroke="#222" stroke-width="0.9"/>
<line x1="246.9" y1="336.5" x2="246.9" y2="338.7" stroke="#222" stroke-width="0.9"/>
<line x1="249.5" y1="336.5" x2="249.5" y2="340.7" stroke="#222" stroke-width="0.9"/>
<line x1="266.4" y1="336.5" x2="266.4" y2="338.7" stroke="#222" stroke-width="0.9"/>
<line x1="276.2" y1="336.5" x2="276.2" y2="338.7" stroke="#222" stroke-width="0.9"/>
<line x1="283.2" y1="336.5" x2="283.2" y2="338.7" stroke="#222" stroke-width="0.9"/>
<line x1="288.6" y1="336.5" x2="288.6" y2="338.7" stroke="#222" stroke-width="0.9"/>
<line x1="293.1" y1="336.5" x2="293.1" y2="338.7" stroke="#222" stroke-width="0.9"/>
<line x1="296.8" y1="336.5" x2="296.8" y2="338.7" stroke="#222" stroke-width="0.9"/>
<line x1="300.1" y1="336.5" x2="300.1" y2="338.7" stroke="#222" stroke-width="0.9"/>
<line x1="302.9" y1="336.5" x2="302.9" y2="338.7" stroke="#222" stroke-width="0.9"/>
<line x1="305.5" y1="336.5" x2="305.5" y2="340.7" stroke="#222" stroke-width="0.9"/>
<text x="81.5" y="357.2" class="r" font-size="16.5" text-anchor="middle">0.1</text>
<text x="137.5" y="357.2" class="r" font-size="16.5" text-anchor="middle">1</text>
<text x="193.5" y="357.2" class="r" font-size="16.5" text-anchor="middle">10</text>
<text x="249.5" y="357.2" class="r" font-size="16.5" text-anchor="middle">100</text>
<text x="305.5" y="357.2" class="r" font-size="16.5" text-anchor="middle">1000</text>
<text x="145.6" y="384.4" class="r" font-size="21.6" letter-spacing="0.45">Size /d.nm</text>
<text transform="translate(46.4,287.0) rotate(-90)" class="r" font-size="22.15">Intensity /%</text>
<rect x="84" y="132" width="29.5" height="13.2" fill="#7f7f7f" stroke="#333" stroke-width="0.8"/>
<rect x="84" y="148.3" width="29.5" height="13.7" fill="#ff0000" stroke="#400" stroke-width="0.8"/>
<text x="116.8" y="142.8" class="r" font-size="11.6" letter-spacing="0.9">GSH</text>
<text x="116.8" y="159.2" class="r" font-size="11.6" letter-spacing="0.9">GSH-Ag(I) complex</text></g>
<text x="324.8" y="120.4" class="r" font-size="26">(B)</text>
<polyline points="373.8,167.1 379.4,166.4 386.0,165.8 391.7,166.4 394.5,168.0 397.3,172.2 401.1,179.8 405.8,187.3 408.6,193.0 411.0,197.7 412.4,203.3 413.3,211.3 414.3,207.1 415.2,197.7 416.1,195.8 417.1,199.5 418.5,206.1 419.4,207.1 420.8,199.5 422.3,193.9 423.7,193.4 425.1,197.7 426.5,205.2 427.9,205.2 430.0,200.5 432.2,205.1 434,207.5 435.9,203.2 437.8,199.4 439.7,201.3 441.6,197.5 444.4,193.8 447.2,191.9 450.1,190 452.9,187.2 455.7,189.1 458.5,190 462.3,190.9 464.2,196.6 465.1,206 466.1,198.5 468,190.9 471.7,183.4 477.4,174.9 483.8,169.3 488.5,166.8 493.2,167.4 497.9,169.8 500.0,169.9 503.1,167.6 506.3,165.7 508.6,166.8 510.2,169.9 511.8,175.4 513.3,183.3 514.4,192.7 514.9,202.1 515.2,222.5 515.7,214.7 516.2,195.8 516.8,193.5 517.3,202.1 518.1,220.9 518.8,228.8 519.6,235.1 520.1,228.8 520.7,233.5 521.7,241.3 522.8,246.8 523.5,239.8 524.3,219.4 525.1,227.2 525.9,235.1 526.7,225.6 527.9,209.9 529.0,199.0 530.1,189.5 530.9,186.4 531.7,191.1 532.5,197.4 533.3,187.2 534.2,202.1 534.9,219.4 535.8,202.1 536.6,189.5 537.4,183.3 538.1,195.8 538.9,219.4 539.7,206.8 540.5,195.8 541.3,186.4 542.1,202.1 542.7,219.4 543.5,214.7 544.3,202.1 545.1,214.7 545.8,209.9 546.6,199.0 547.4,192.7 548.2,188.8 549.0,190.3 549.8,200.5 550.5,194.2 551.3,191.1 552.1,199.0 552.9,194.2 553.7,200.5 554.5,189.5 555.3,217.0 555.9,191.1 556.8,188.0 558.1,187.2 559.3,184.8 560.4,184.0 561.2,180.1 562.0,177.0 562.8,175.4 563.6,179.3 564.4,188.8 565.1,181.7 565.9,177.0 566.7,173.1 567.5,171.5 568.3,170.7 569.1,168.3 569.9,166.8 570.6,169.9 571.4,177.0 572.2,166.8 573.0,166.0 573.8,169.1 574.6,173.8 575.4,168.3 576.1,172.3 576.9,179.3 577.7,175.4 578.5,173.1 579.3,176.2 580.1,172.3 580.8,179.3 581.6,175.4 582.4,180.9 583.2,183.3 584.0,184.8 584.8,178.5 585.6,171.5 586.3,175.4 587.1,186.4 587.9,203.7 588.7,192.7 589.5,181.7 590.3,178.5 591.1,186.4 591.8,175.4 592.6,183.3 593.4,177.0 594.2,173.8 595.0,173.1 595.8,170.7 596.5,169.1 597.6,167.2" fill="none" stroke="#000" stroke-width="1.75" stroke-linejoin="round"/>
<polyline points="373.4,257.9 377.5,258.5 382.2,259.4 387,261.7 390.3,263.5 392.6,267.3 395.4,276.7 398.3,289 400.1,300.3 401.1,305 403,307.8 404.9,317.2 406.7,316.3 407.7,318.2 409,322 409.9,318.2 411.8,307.8 414.3,296.5 417.1,289 419.9,285.2 422.8,278.6 426.5,271.1 430.3,266.4 434.1,263 438.8,261.1 444.4,259.4 451,258.3 458.5,257.5 464.2,258.1 469.8,258.8 477.4,258.5 487.5,259.2 495.1,258.8 498.8,257.9 504.5,257.5 510.1,258.8 513.9,261.7 516.7,266.4 518.6,273.9 519.9,280.5 521.1,279.6 521.8,268.3 523.3,260.7 526.2,258.3 530.9,257.5 536.5,258.8 540.3,259.2 544.1,261.7 547.8,266.4 550.6,273.9 553.5,279.9 555.4,279.6 557.2,273.9 559.1,268.3 562,264.1 566.7,264.1 572.3,264.5 577,266.4 580.8,270.1 582.7,276.7 583.6,279.9 585.5,277.7 588.3,279.6 591.2,278.6 593,280.5 595.3,277.7 597.2,278.6" fill="none" stroke="#ff0000" stroke-width="1.6" stroke-linejoin="round"/>
<rect x="372.5" y="126.5" width="225.0" height="210.0" fill="none" stroke="#4a4a4a" stroke-width="1"/>
<line x1="372.5" y1="126.5" x2="372.5" y2="336.5" stroke="#333" stroke-width="1"/>
<line x1="372.5" y1="336.5" x2="597.5" y2="336.5" stroke="#333" stroke-width="1"/>
<line x1="367.9" y1="322.5" x2="372.5" y2="322.5" stroke="#222" stroke-width="0.9"/>
<text x="365.5" y="327.7" class="r" font-size="16.5" text-anchor="end">0</text>
<line x1="370.0" y1="296.5" x2="372.5" y2="296.5" stroke="#222" stroke-width="0.9"/>
<line x1="367.9" y1="270.5" x2="372.5" y2="270.5" stroke="#222" stroke-width="0.9"/>
<text x="365.5" y="275.7" class="r" font-size="16.5" text-anchor="end">40</text>
<line x1="370.0" y1="244.5" x2="372.5" y2="244.5" stroke="#222" stroke-width="0.9"/>
<line x1="367.9" y1="218.5" x2="372.5" y2="218.5" stroke="#222" stroke-width="0.9"/>
<text x="365.5" y="223.7" class="r" font-size="16.5" text-anchor="end">80</text>
<line x1="370.0" y1="192.5" x2="372.5" y2="192.5" stroke="#222" stroke-width="0.9"/>
<line x1="367.9" y1="166.5" x2="372.5" y2="166.5" stroke="#222" stroke-width="0.9"/>
<text x="365.5" y="171.7" class="r" font-size="16.5" text-anchor="end">120</text>
<line x1="370.0" y1="140.5" x2="372.5" y2="140.5" stroke="#222" stroke-width="0.9"/>
<line x1="372.5" y1="336.5" x2="372.5" y2="340.7" stroke="#222" stroke-width="0.9"/>
<text x="372.5" y="357" class="r" font-size="16.5" text-anchor="middle">4000</text>
<line x1="403.8" y1="336.5" x2="403.8" y2="338.9" stroke="#222" stroke-width="0.9"/>
<line x1="435.0" y1="336.5" x2="435.0" y2="340.7" stroke="#222" stroke-width="0.9"/>
<text x="435.0" y="357" class="r" font-size="16.5" text-anchor="middle">3000</text>
<line x1="466.2" y1="336.5" x2="466.2" y2="338.9" stroke="#222" stroke-width="0.9"/>
<line x1="497.5" y1="336.5" x2="497.5" y2="340.7" stroke="#222" stroke-width="0.9"/>
<text x="497.5" y="357" class="r" font-size="16.5" text-anchor="middle">2000</text>
<line x1="528.8" y1="336.5" x2="528.8" y2="338.9" stroke="#222" stroke-width="0.9"/>
<line x1="560.0" y1="336.5" x2="560.0" y2="340.7" stroke="#222" stroke-width="0.9"/>
<text x="560.0" y="357" class="r" font-size="16.5" text-anchor="middle">1000</text>
<line x1="591.2" y1="336.5" x2="591.2" y2="338.9" stroke="#222" stroke-width="0.9"/>
<text x="411.8" y="380.9" class="r" font-size="21.6" letter-spacing="0.48">Wavelength /nm</text>
<text transform="translate(334.3,321.3) rotate(-90)" class="r" font-size="22.2">Transmittance /%</text>
<line x1="373.6" y1="134" x2="403" y2="134" stroke="#000" stroke-width="1.6"/>
<line x1="373.6" y1="150.8" x2="403" y2="150.8" stroke="#ff0000" stroke-width="1.6"/>
<text x="406.5" y="138.6" class="r" font-size="11.6" letter-spacing="0.9">GSH</text>
<text x="406.5" y="154.6" class="r" font-size="11.6" letter-spacing="0.9">GSH-Ag(I) complex</text>
<text x="472.4" y="224.1" class="r" font-size="12.1" letter-spacing="0.7">S-H</text>
<line x1="471.5" y1="207" x2="476.8" y2="211.3" stroke="#333" stroke-width="0.8"/>
<polygon points="468.3,204 473.1,206.3 471.4,208.4" fill="#000"/>
<text x="34.2" y="403.6" class="r" font-size="26">(C)</text>
<g transform="translate(55,414)"><g clip-path="url(#clipImg)">
<g filter="url(#afm)"><rect x="-10" y="-10" width="275" height="275" fill="rgb(51,51,51)"/>
<g filter="url(#hb3)">
<rect x="-10" y="-10" width="275" height="46" fill="url(#topband)"/>
<polygon points="20,100 22,92 30,84 38,72 46,64 52,61 60,66 68,72 76,80 84,75 90,76 96,88 104,96 115,103 128,106 147,102 167,104 183,101 193,104 201,116 210,128 230,132 248,138 260,150 260,227 217,227 203,223 187,213 173,203 163,193 147,189 127,187 110,187 100,180 90,173 32,173 20,173" fill="rgb(105,105,105)"/>
<polygon points="22,100 30,86 46,66 60,68 76,82 90,80 100,96 112,108 110,140 100,150 60,150 24,160" fill="rgb(115,115,115)"/>
<polygon points="62,150 80,145 100,147 112,152 115,165 100,172 70,172 62,165" fill="rgb(158,158,158)"/>
<polygon points="205,132 230,132 250,138 260,150 260,167 230,167 210,160" fill="rgb(140,140,140)"/>
<polygon points="168,190 180,188 195,198 212,212 218,224 205,225 190,214 175,202" fill="rgb(148,148,148)"/>
<polygon points="22,96 34,90 40,100 38,120 26,126 20,115" fill="rgb(140,140,140)"/>
<polygon points="118,224 134,216 150,222 156,240 152,262 118,262 112,240" fill="rgb(128,128,128)"/>
<polygon points="-5,187 20,180 32,190 30,230 -5,235" fill="rgb(76,76,76)"/>
<polygon points="4,50 12,52 14,66 6,68" fill="rgb(97,97,97)"/>
<polygon points="90,228 112,226 114,250 92,252" fill="rgb(76,76,76)"/>
<polygon points="217,167 260,167 260,227 217,227" fill="rgb(107,107,107)"/>
</g><g filter="url(#hb15)">
<ellipse cx="28" cy="94" rx="5" ry="5" fill="rgb(217,217,217)"/>
<ellipse cx="82" cy="86" rx="4.5" ry="6" fill="rgb(217,217,217)"/>
<ellipse cx="77" cy="65" rx="7" ry="3.5" fill="rgb(140,140,140)"/>
<ellipse cx="104" cy="58" rx="5" ry="3" fill="rgb(128,128,128)"/>
<ellipse cx="64" cy="26" rx="4" ry="4" fill="rgb(128,128,128)"/>
<ellipse cx="72" cy="43" rx="4" ry="4" fill="rgb(115,115,115)"/>
<ellipse cx="84" cy="32" rx="3" ry="3" fill="rgb(107,107,107)"/>
<ellipse cx="60" cy="48" rx="3" ry="3" fill="rgb(107,107,107)"/>
<ellipse cx="9" cy="96" rx="3" ry="3" fill="rgb(115,115,115)"/>
<ellipse cx="153" cy="20" rx="4" ry="4" fill="rgb(102,102,102)"/>
<ellipse cx="183" cy="48" rx="4" ry="4" fill="rgb(133,133,133)"/>
<ellipse cx="169" cy="42" rx="3" ry="3" fill="rgb(107,107,107)"/>
<ellipse cx="149" cy="55" rx="4" ry="4" fill="rgb(140,140,140)"/>
<ellipse cx="139" cy="80" rx="4" ry="6" fill="rgb(153,153,153)"/>
<ellipse cx="235" cy="60" rx="8" ry="8" fill="rgb(87,87,87)"/>
<ellipse cx="239" cy="74" rx="4" ry="4" fill="rgb(115,115,115)"/>
<ellipse cx="235" cy="96" rx="4" ry="4" fill="rgb(140,140,140)"/>
<ellipse cx="247" cy="4" rx="4" ry="4" fill="rgb(128,128,128)"/>
<ellipse cx="197" cy="120" rx="5" ry="5" fill="rgb(199,199,199)"/>
<ellipse cx="187" cy="104" rx="4" ry="4" fill="rgb(168,168,168)"/>
<ellipse cx="212" cy="132" rx="5" ry="5" fill="rgb(178,178,178)"/>
<ellipse cx="12" cy="219" rx="4" ry="4" fill="rgb(133,133,133)"/>
<ellipse cx="147" cy="237" rx="5" ry="5" fill="rgb(158,158,158)"/>
<ellipse cx="195" cy="205" rx="5" ry="5" fill="rgb(184,184,184)"/>
<ellipse cx="180" cy="194" rx="4" ry="4" fill="rgb(178,178,178)"/>
<ellipse cx="215" cy="140" rx="4" ry="4" fill="rgb(184,184,184)"/>
<ellipse cx="240" cy="140" rx="5" ry="5" fill="rgb(189,189,189)"/>
<ellipse cx="225" cy="150" rx="4" ry="4" fill="rgb(178,178,178)"/>
<ellipse cx="244" cy="158" rx="4" ry="4" fill="rgb(178,178,178)"/>
<ellipse cx="120" cy="40" rx="3" ry="3" fill="rgb(102,102,102)"/>
<ellipse cx="110" cy="20" rx="3" ry="3" fill="rgb(97,97,97)"/>
<ellipse cx="210" cy="70" rx="3" ry="3" fill="rgb(102,102,102)"/>
<ellipse cx="45" cy="140" rx="3" ry="3" fill="rgb(158,158,158)"/>
<ellipse cx="140" cy="150" rx="4" ry="4" fill="rgb(153,153,153)"/>
<ellipse cx="160" cy="135" rx="3" ry="3" fill="rgb(153,153,153)"/>
<ellipse cx="100" cy="120" rx="3" ry="3" fill="rgb(153,153,153)"/>
<ellipse cx="48" cy="110" rx="3" ry="3" fill="rgb(153,153,153)"/>
<ellipse cx="180" cy="34" rx="3" ry="3" fill="rgb(115,115,115)"/>
<ellipse cx="187" cy="36" rx="3" ry="3" fill="rgb(128,128,128)"/>
<ellipse cx="191" cy="42" rx="3" ry="3" fill="rgb(122,122,122)"/>
<ellipse cx="185" cy="48" rx="3.5" ry="3.5" fill="rgb(140,140,140)"/>
<ellipse cx="176" cy="46" rx="3" ry="3" fill="rgb(115,115,115)"/>
<ellipse cx="171" cy="40" rx="2.5" ry="2.5" fill="rgb(107,107,107)"/>
<ellipse cx="229" cy="62" rx="3" ry="3" fill="rgb(115,115,115)"/>
<ellipse cx="236" cy="58" rx="3" ry="3" fill="rgb(107,107,107)"/>
<ellipse cx="243" cy="66" rx="3" ry="3" fill="rgb(115,115,115)"/>
<ellipse cx="232" cy="72" rx="3" ry="3" fill="rgb(122,122,122)"/>
<ellipse cx="246" cy="78" rx="3" ry="3" fill="rgb(107,107,107)"/>
<ellipse cx="228" cy="82" rx="3" ry="3" fill="rgb(107,107,107)"/>
</g></g>
</g>
<line x1="5.2" y1="122.4" x2="115.7" y2="122.4" stroke="#d8d8d8" stroke-width="1.2"/>
<circle cx="5.4" cy="122.4" r="1.5" fill="none" stroke="#ddd" stroke-width="0.8"/>
<path d="M14.4,119.6 v5.6 M11.6,122.4 h5.6 M40.8,119.6 v5.6 M38,122.4 h5.6" stroke="#2020c0" stroke-width="0.9"/>
<rect x="33.3" y="165.4" width="209.3" height="64.1" fill="none" stroke="#111" stroke-width="1"/>
<line x1="45.9" y1="165.4" x2="45.9" y2="229.5" stroke="#0a0aff" stroke-width="1.3" stroke-dasharray="3,2"/>
<line x1="111.2" y1="165.4" x2="111.2" y2="229.5" stroke="#0a0aff" stroke-width="1.3" stroke-dasharray="3,2"/>
<polyline points="32.6,218.2 40.4,218.7 50.7,218.5 57.6,216.5 62.8,213.0 68.0,209.2 73.2,205.7 75.8,204.7 81.8,206.4 90.4,207.5 99.1,207.8 106.0,206.4 111.2,206.1 114.6,207.0 119.8,209.5 126.7,209.0 133.6,208.2 141.9,207.5 150.5,205.2 159.2,207.0 169.5,209.2 181.6,209.2 186.8,208.2 194.6,206.1 204.1,206.4 217.9,207.0 230.0,209.2 235.2,208.7 241.8,207.8" fill="none" stroke="#ff1010" stroke-width="1.5"/>
<text x="24.2" y="174.8" class="r wt" font-size="8.2" text-anchor="middle" textLength="6.3" lengthAdjust="spacingAndGlyphs">8</text>
<text x="24.2" y="195.5" class="r wt" font-size="8.2" text-anchor="middle" textLength="6.3" lengthAdjust="spacingAndGlyphs">4</text>
<text x="24.2" y="215.8" class="r wt" font-size="8.2" text-anchor="middle" textLength="6.3" lengthAdjust="spacingAndGlyphs">0</text>
<text x="32.8" y="238.6" class="r wt" font-size="8.6" text-anchor="middle" textLength="6" lengthAdjust="spacingAndGlyphs">0</text>
<text x="84.7" y="238.6" class="r wt" font-size="8.6" text-anchor="middle" textLength="13.8" lengthAdjust="spacingAndGlyphs">50</text>
<text x="137.7" y="238.6" class="r wt" font-size="8.6" text-anchor="middle" textLength="20.5" lengthAdjust="spacingAndGlyphs">100</text>
<text x="189.7" y="238.6" class="r wt" font-size="8.6" text-anchor="middle" textLength="21.2" lengthAdjust="spacingAndGlyphs">150</text>
<text x="241.5" y="238.6" class="r wt" font-size="8.6" text-anchor="middle" textLength="21.6" lengthAdjust="spacingAndGlyphs">200</text>
<text x="130" y="250.2" class="r wt" font-size="11" text-anchor="middle" textLength="21.5" lengthAdjust="spacingAndGlyphs">nm</text>
<text transform="translate(13.8,196.1) rotate(-90)" class="r wt" font-size="12" text-anchor="middle" textLength="19.1" lengthAdjust="spacingAndGlyphs">nm</text>
<g fill="#6ab04c" stroke="none"><rect x="70.4" y="205" width="2.8" height="12"/><polygon points="66.5,207 71.8,200.6 77,207"/><polygon points="66.5,215.5 71.8,222 77,215.5"/></g>
<text x="82.5" y="222" class="b" font-size="15.2" fill="#6ab04c">GO height</text>
<text x="213.3" y="23.7" class="b" font-size="20.6" fill="#ff0000">GO</text>
</g>
<rect x="312" y="413.6" width="10.6" height="281.6" fill="url(#cbar)" stroke="#999" stroke-width="0.6"/>
<text x="322.5" y="411.4" class="r" font-size="12.8" text-anchor="end">6.9 nm</text>
<text x="322.5" y="705" class="r" font-size="12.8" text-anchor="end">-4.2 nm</text>
<path d="M55.3,677 V672.8 H309.2 V677" fill="none" stroke="#777" stroke-width="0.8"/>
<text x="55.2" y="684.4" class="r" font-size="7" fill="#222">0.0</text>
<text x="160" y="684.4" class="r" font-size="7" fill="#222">1: Height</text>
<text x="309.2" y="684.4" class="r" font-size="7" fill="#333" text-anchor="end">523.0 nm</text>
<text x="326.6" y="404.5" class="r" font-size="25.5">(D)</text>
<g transform="translate(345.1,413.9)"><g clip-path="url(#clipImg)">
<g filter="url(#afmD)"><rect x="-10" y="-10" width="275" height="275" fill="rgb(43,43,43)"/>
<g filter="url(#hb3)">
<polygon points="-5,70 6,69 16,71 20,70 28,69 36,71 44,74 52,77 60,77 70,77 80,77 88,74 96,71 102,68 110,67 116,70 121,77 125,84 128,90 151,104 171,98 187,96 207,94 223,92 239,96 260,100 260,120 239,126 223,130 213,136 207,146 201,154 199,162 197,200 197,228 132,228 128,200 100,175 100,166 90,150 88,134 80,126 64,114 52,106 40,98 26,90 12,87 -5,86" fill="rgb(135,135,135)"/>
<polygon points="-5,106 12,104 26,110 40,118 48,128 50,138 46,146 36,144 24,132 12,126 -5,124" fill="rgb(143,143,143)"/>
<polygon points="8,140 20,137 32,141 42,149 47,160 41,167 28,165 16,158 8,150" fill="rgb(148,148,148)"/>
<polygon points="44,126 72,124 92,136 94,160 86,166 64,166 52,160 40,150" fill="rgb(64,64,64)"/>
<polygon points="92,130 98,127 106,132 111,146 108,154 100,153 94,144" fill="rgb(173,173,173)"/>
<polygon points="163,68 174,66 186,76 191,90 184,96 172,94 166,82" fill="rgb(148,148,148)"/>
<polygon points="147,112 167,112 170,120 164,132 150,132" fill="rgb(219,219,219)"/>
<polygon points="169,118 188,114 205,120 207,140 196,148 176,146 170,132" fill="rgb(214,214,214)"/>
<polygon points="131,134 150,131 160,138 158,150 140,151 131,146" fill="rgb(214,214,214)"/>
<polygon points="-5,160 4,158 14,160 18,168 10,172 -5,172" fill="rgb(128,128,128)"/>
<polygon points="-5,172 4,172 4,230 -5,230" fill="rgb(56,56,56)"/>
<polygon points="10,178 22,174 32,180 35,196 32,214 22,218 12,210 8,194" fill="rgb(138,138,138)"/>
<polygon points="50,182 58,178 64,184 63,196 54,198 49,190" fill="rgb(133,133,133)"/>
<polygon points="34,168 48,166 52,176 50,226 36,226 33,200" fill="rgb(56,56,56)"/>
<polygon points="64,166 86,164 88,200 76,206 64,204" fill="rgb(61,61,61)"/>
<polygon points="86,164 127,164 127,182 100,182 88,178" fill="rgb(143,143,143)"/>
<polygon points="100,180 127,180 127,202 104,202" fill="rgb(133,133,133)"/>
<polygon points="76,202 127,202 127,228 78,228" fill="rgb(102,102,102)"/>
<polygon points="-5,228 20,230 20,260 -5,260" fill="rgb(76,76,76)"/>
<polygon points="20,228 60,228 62,260 20,260" fill="rgb(76,76,76)"/>
<polygon points="24,242 40,238 52,244 50,260 24,260" fill="rgb(128,128,128)"/>
<polygon points="60,228 80,228 80,260 62,260" fill="rgb(71,71,71)"/>
<polygon points="80,228 127,228 127,260 80,260" fill="rgb(92,92,92)"/>
<polygon points="84,244 126,242 127,260 84,260" fill="rgb(117,117,117)"/>
<polygon points="-5,127 6,127 6,232 -5,232" fill="rgb(56,56,56)"/>
<polygon points="127,156 197,156 197,182 127,182" fill="rgb(143,143,143)"/>
<polygon points="127,180 142,178 157,184 158,200 150,206 127,206" fill="rgb(64,64,64)"/>
<polygon points="147,182 197,182 199,222 147,222 150,206 158,200" fill="rgb(138,138,138)"/>
<polygon points="171,198 184,194 200,196 207,206 206,214 196,220 180,222 172,212" fill="rgb(64,64,64)"/>
<polygon points="183,212 196,210 207,214 206,224 184,225" fill="rgb(153,153,153)"/>
<polygon points="127,222 199,220 200,260 127,260" fill="rgb(158,158,158)"/>
<polygon points="203,182 210,180 217,185 216,192 205,192" fill="rgb(128,128,128)"/>
<polygon points="223,178 232,176 236,188 234,202 225,200 222,190" fill="rgb(122,122,122)"/>
<polygon points="239,188 250,184 260,186 260,230 244,228 239,210" fill="rgb(140,140,140)"/>
</g><g filter="url(#hb15)">
<ellipse cx="97" cy="86" rx="6" ry="6" fill="rgb(255,255,255)"/>
<ellipse cx="64" cy="100" rx="6" ry="6" fill="rgb(255,255,255)"/>
<ellipse cx="112" cy="106" rx="6" ry="6" fill="rgb(247,247,247)"/>
<ellipse cx="21" cy="117" rx="5.5" ry="5.5" fill="rgb(255,255,255)"/>
<ellipse cx="19" cy="148" rx="5" ry="5" fill="rgb(255,255,255)"/>
<ellipse cx="103" cy="148" rx="5" ry="5" fill="rgb(247,247,247)"/>
<ellipse cx="151" cy="145" rx="6" ry="6" fill="rgb(255,255,255)"/>
<ellipse cx="182" cy="129" rx="6" ry="6" fill="rgb(255,255,255)"/>
<ellipse cx="198" cy="122" rx="5.5" ry="5.5" fill="rgb(247,247,247)"/>
<ellipse cx="193" cy="175" rx="6.5" ry="6.5" fill="rgb(255,255,255)"/>
<ellipse cx="159" cy="232" rx="4.5" ry="4.5" fill="rgb(235,235,235)"/>
<ellipse cx="197" cy="240" rx="4" ry="4" fill="rgb(235,235,235)"/>
<ellipse cx="181" cy="248" rx="4" ry="4" fill="rgb(217,217,217)"/>
<ellipse cx="66" cy="205" rx="3" ry="3" fill="rgb(128,128,128)"/>
<ellipse cx="8" cy="72" rx="3" ry="3" fill="rgb(128,128,128)"/>
<ellipse cx="30" cy="66" rx="4" ry="4" fill="rgb(128,128,128)"/>
<ellipse cx="60" cy="72" rx="3" ry="3" fill="rgb(115,115,115)"/>
<ellipse cx="92" cy="58" rx="4" ry="4" fill="rgb(128,128,128)"/>
<ellipse cx="135" cy="36" rx="4" ry="4" fill="rgb(128,128,128)"/>
<ellipse cx="157" cy="36" rx="3" ry="3" fill="rgb(107,107,107)"/>
<ellipse cx="245" cy="44" rx="5" ry="5" fill="rgb(140,140,140)"/>
<ellipse cx="163" cy="4" rx="3" ry="3" fill="rgb(115,115,115)"/>
<ellipse cx="150" cy="118" rx="5" ry="5" fill="rgb(230,230,230)"/>
<ellipse cx="45.0" cy="19.0" rx="2.8" ry="2.8" fill="rgb(112,112,112)"/>
<ellipse cx="43.1" cy="26.1" rx="2.8" ry="2.8" fill="rgb(112,112,112)"/>
<ellipse cx="38.1" cy="30.4" rx="2.8" ry="2.8" fill="rgb(112,112,112)"/>
<ellipse cx="31.9" cy="30.4" rx="2.8" ry="2.8" fill="rgb(112,112,112)"/>
<ellipse cx="26.9" cy="26.1" rx="2.8" ry="2.8" fill="rgb(112,112,112)"/>
<ellipse cx="25.0" cy="19.0" rx="2.8" ry="2.8" fill="rgb(112,112,112)"/>
<ellipse cx="26.9" cy="11.9" rx="2.8" ry="2.8" fill="rgb(112,112,112)"/>
<ellipse cx="31.9" cy="7.6" rx="2.8" ry="2.8" fill="rgb(112,112,112)"/>
<ellipse cx="38.1" cy="7.6" rx="2.8" ry="2.8" fill="rgb(112,112,112)"/>
<ellipse cx="43.1" cy="11.9" rx="2.8" ry="2.8" fill="rgb(112,112,112)"/>
</g></g>
</g>
<line x1="26.9" y1="103.5" x2="155" y2="112" stroke="#d8d8d8" stroke-width="1.2"/>
<circle cx="27" cy="103.5" r="1.5" fill="none" stroke="#ddd" stroke-width="0.8"/>
<path d="M66.6,102.7 v5.6 M63.8,105.5 h5.6 M91.7,104.3 v5.6 M88.9,107.1 h5.6" stroke="#2020c0" stroke-width="0.9"/>
<rect x="35.2" y="164.5" width="205.2" height="64.1" fill="none" stroke="#111" stroke-width="1"/>
<line x1="98.8" y1="164.5" x2="98.8" y2="228.6" stroke="#0a0aff" stroke-width="1.3" stroke-dasharray="3,2"/>
<line x1="147" y1="164.5" x2="147" y2="228.6" stroke="#0a0aff" stroke-width="1.3" stroke-dasharray="3,2"/>
<polyline points="35.5,225.2 39.0,223.1 43.3,222.4 47.5,224.5 53.1,223.1 58.8,220.3 63.0,219.5 67.3,223.1 70.1,213.9 74.3,205.4 77.2,204.0 81.4,202.6 84.2,201.2 87.0,202.6 89.9,198.4 92.7,188.5 95.5,175.8 97.6,172.9 100.5,172.9 103.3,177.2 106.1,188.5 108.2,198.4 109.9,198.2 119.0,197.1 128.1,196.6 137.2,198.2 146.3,200.5 155.4,199.4 162.3,198.2 165.7,194.8 169.1,181.1 172.5,172.0 176.6,169.3 180.5,171.6 183.2,178.9 185.7,190.2 188.4,197.1 196.4,199.4 205.5,202.8 214.6,205.0 223.7,205.7 230.5,204.4 236.2,201.6 240.1,198.9" fill="none" stroke="#ff1010" stroke-width="1.5"/>
<text x="26.4" y="174.9" class="r wt" font-size="8.2" text-anchor="middle" textLength="6.3" lengthAdjust="spacingAndGlyphs">8</text>
<text x="26.4" y="195.6" class="r wt" font-size="8.2" text-anchor="middle" textLength="6.3" lengthAdjust="spacingAndGlyphs">4</text>
<text x="26.4" y="215.9" class="r wt" font-size="8.2" text-anchor="middle" textLength="6.3" lengthAdjust="spacingAndGlyphs">0</text>
<text x="34.7" y="238.4" class="r wt" font-size="8.6" text-anchor="middle" textLength="6" lengthAdjust="spacingAndGlyphs">0</text>
<text x="103.0" y="238.4" class="r wt" font-size="8.6" text-anchor="middle" textLength="21" lengthAdjust="spacingAndGlyphs">100</text>
<text x="171.4" y="238.4" class="r wt" font-size="8.6" text-anchor="middle" textLength="21.4" lengthAdjust="spacingAndGlyphs">200</text>
<text x="239.9" y="238.4" class="r wt" font-size="8.6" text-anchor="middle" textLength="21.6" lengthAdjust="spacingAndGlyphs">300</text>
<text x="130.4" y="250.3" class="r wt" font-size="11" text-anchor="middle" textLength="21.5" lengthAdjust="spacingAndGlyphs">nm</text>
<text transform="translate(16.9,201.9) rotate(-90)" class="r wt" font-size="12" text-anchor="middle" textLength="18.1" lengthAdjust="spacingAndGlyphs">nm</text>
<g fill="#6ab04c"><rect x="72.7" y="207.1" width="2.8" height="18"/><polygon points="68.8,211.1 74.1,204.3 79.4,211.1"/><polygon points="68.8,222.1 74.1,228.7 79.4,222.1"/></g>
<text x="82.9" y="220.3" class="b" font-size="15.2" fill="#6ab04c">GO height</text>
<g fill="#76b2e8"><rect x="92.3" y="177.1" width="2.4" height="24"/><polygon points="89.0,179.1 93.5,172.4 98.0,179.1"/><polygon points="89.0,199.6 93.5,206.1 98.0,199.6"/></g>
<text x="32.4" y="162.0" class="b" font-size="15.2" fill="#3a86d4">Complex</text>
<text x="43.9" y="180.1" class="b" font-size="15.2" fill="#3a86d4">height</text>
<text x="102.9" y="24.5" class="b" font-size="20.5" fill="#ff0000">Complex + GO</text>
</g>
<rect x="602" y="413.9" width="10.6" height="282" fill="url(#cbar)" stroke="#999" stroke-width="0.6"/>
<text x="612.4" y="411.4" class="r" font-size="12.8" text-anchor="end">10.5 nm</text>
<text x="611" y="705.8" class="r" font-size="12.8" text-anchor="end">-6.6 nm</text>
<path d="M345.3,677.8 V673.6 H599.3 V677.8" fill="none" stroke="#777" stroke-width="0.8"/>
<text x="345.2" y="685.2" class="r" font-size="7" fill="#222">0.0</text>
<text x="450.2" y="685.2" class="r" font-size="7" fill="#222">1: Height</text>
<text x="599.3" y="685.2" class="r" font-size="7" fill="#333" text-anchor="end">612.2 nm</text>
</svg>
</body></html>
